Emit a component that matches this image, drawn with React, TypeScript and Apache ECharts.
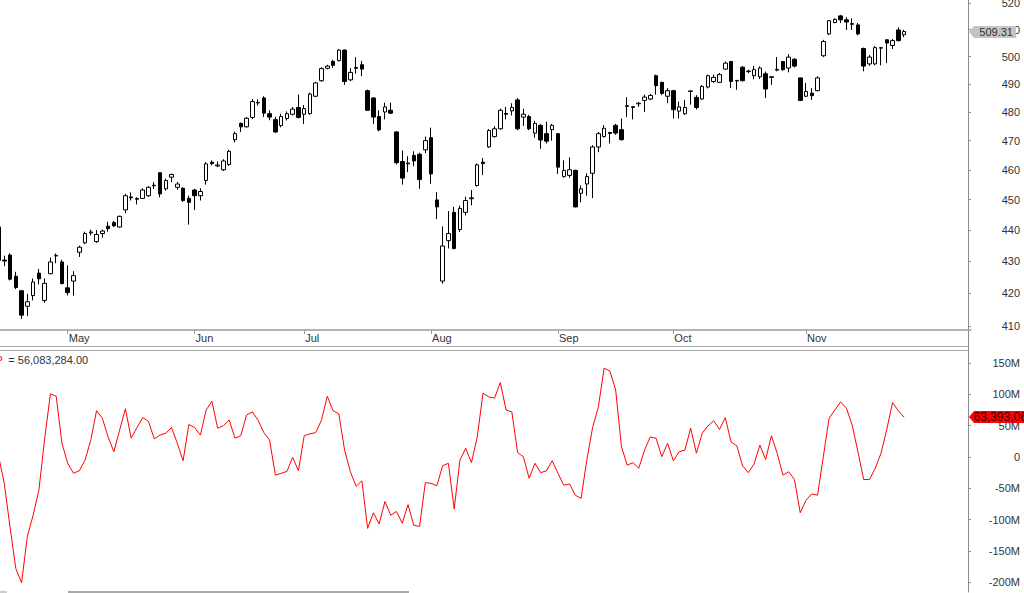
import React, { useEffect, useRef } from 'react';
import * as echarts from 'echarts';

// ---- trading days (2024) ----
const monthNames = ['Apr', 'May', 'Jun', 'Jul', 'Aug', 'Sep', 'Oct', 'Nov'];
const aprDays = [15, 16, 17, 18, 19, 22, 23, 24, 25, 26, 29, 30];
const mayDays = [1, 2, 3, 6, 7, 8, 9, 10, 13, 14, 15, 16, 17, 20, 21, 22, 23, 24, 28, 29, 30, 31];
const junDays = [3, 4, 5, 6, 7, 10, 11, 12, 13, 14, 17, 18, 20, 21, 24, 25, 26, 27, 28];
const julDays = [1, 2, 3, 5, 8, 9, 10, 11, 12, 15, 16, 17, 18, 19, 22, 23, 24, 25, 26, 29, 30, 31];
const augDays = [1, 2, 5, 6, 7, 8, 9, 12, 13, 14, 15, 16, 19, 20, 21, 22, 23, 26, 27, 28, 29, 30];
const sepDays = [3, 4, 5, 6, 9, 10, 11, 12, 13, 16, 17, 18, 19, 20, 23, 24, 25, 26, 27, 30];
const octDays = [1, 2, 3, 4, 7, 8, 9, 10, 11, 14, 15, 16, 17, 18, 21, 22, 23, 24, 25, 28, 29, 30, 31];
const novDays = [1, 4, 5, 6, 7, 8, 11, 12, 13, 14, 15, 18, 19, 20, 21, 22, 25, 26];

// ---- OHLC: [open, close, low, high] ----
const aprOHLC = [
  [441, 430.3, 429.6, 442], [430.4, 430.1, 428.5, 431.8], [432, 424.4, 424, 432.5], [425.3, 421.8, 421.3, 426.7],
  [420.8, 413.3, 412.1, 421], [416, 417.4, 413, 419.8], [419.3, 423.5, 417.8, 424.6], [426.3, 424.5, 422.8, 427.6],
  [417.8, 423.1, 417.1, 424.6], [426.1, 429.8, 425.9, 431.2], [431.7, 431.9, 429.4, 432.5], [429.8, 423, 422.8, 430.5],
];
const mayOHLC = [
  [421.7, 420.2, 419.3, 428.7], [423.8, 425.5, 419.3, 426.9], [432.9, 434.5, 431.4, 435], [435.9, 438.9, 435.5, 439.5],
  [439.1, 439.4, 438.3, 440.2], [436.3, 438.6, 435.9, 440], [438.9, 439.7, 437.6, 440.2], [441.3, 440.5, 439.5, 442.7],
  [442.5, 441.4, 441, 443], [441, 444.5, 440.8, 444.7], [446.6, 451.3, 445.5, 451.9], [450.9, 450.6, 449.7, 452.4],
  [450.1, 450.4, 448.4, 450.8], [450.4, 453.2, 450.2, 453.8], [451.3, 454.1, 450.9, 454.5], [454.6, 454.8, 453.5, 455.8],
  [459, 451.9, 450.8, 459.2], [453.6, 456.4, 453, 457], [457.5, 458.4, 455.8, 458.7], [454.1, 455.2, 453.3, 455.9],
  [453.8, 449.7, 449.2, 454.1], [450.4, 449.1, 441.8, 451.3],
];
const junOHLC = [
  [453.2, 451.3, 446.6, 453.6], [451.3, 452.7, 449.7, 453.8], [456.4, 462, 455, 462.6], [462.6, 462.1, 461.5, 463.2],
  [461.3, 461.6, 460.9, 462.8], [460, 463, 459.6, 463.6], [461.8, 466.3, 461.3, 466.8], [470.3, 472.4, 469.4, 473.1],
  [476, 474.8, 473, 476.3], [474.8, 477.8, 474.5, 478.2], [478.1, 483.7, 477.5, 484.6], [483.2, 483.4, 482.3, 484.5],
  [485, 479.6, 478.2, 485.6], [479.4, 478.2, 477.1, 480.6], [477.3, 473, 472.7, 478.3], [475.2, 478.4, 474.6, 479.4],
  [477.7, 479.4, 477, 480.2], [479.2, 481, 478.8, 481.8], [481.6, 478.1, 477.7, 486.2],
];
const julOHLC = [
  [479.2, 481.2, 475.8, 482.5], [479.4, 486.4, 479, 486.9], [485.6, 490.4, 485.3, 490.8], [491.2, 495.6, 490.8, 496.1],
  [495.7, 496.5, 495.3, 497], [498.2, 496.8, 495.9, 498.8], [498.5, 502.4, 498.2, 502.8], [502.4, 490.9, 489.7, 502.7],
  [491.5, 494.2, 491, 495.8], [496, 495.7, 493.7, 499.8], [497, 495.4, 492.8, 498.4], [487.6, 480.6, 480.5, 488],
  [485, 478.2, 475.8, 485.2], [478.4, 473.7, 473.2, 480.6], [480, 481.8, 477.4, 483.3], [480.6, 479.6, 479.3, 483.3],
  [473, 462.4, 461.8, 473.2], [462.8, 457.2, 455, 466.6], [462, 462.3, 459.2, 464.6], [464.9, 463, 461.2, 466.3],
  [465.3, 456.7, 453.6, 465.8], [466.8, 470, 465.7, 471.4],
];
const augOHLC = [
  [471, 458.6, 455.3, 474.5], [449.9, 447.6, 443.6, 452.5], [423.8, 434.9, 423, 441.2], [436.6, 438.9, 434.1, 446.2],
  [445.8, 434.1, 433.8, 447.6], [440.2, 447.1, 439.4, 448], [445.8, 449.7, 444.8, 451], [450.3, 450.6, 448.1, 453.2],
  [454.7, 461.7, 454.3, 462.2], [462.6, 462.1, 458.2, 464], [467.8, 473.5, 467.5, 474], [471.4, 474.1, 471, 475],
  [474.1, 480.6, 473.8, 481.2], [479.5, 479.2, 477.4, 481.8], [480.4, 481.6, 478.8, 483.1], [484.3, 474.1, 473.6, 485],
  [478.2, 479.2, 475.1, 481.2], [478.4, 474.1, 473.6, 479], [472.6, 476, 471, 476.9], [475.3, 470.2, 467.2, 475.8],
  [472.4, 469.8, 469, 476.6], [473.8, 475.3, 470, 475.8],
];
const sepOHLC = [
  [472.4, 460.9, 458.6, 472.6], [457.7, 459.8, 457.3, 463.2], [458.1, 460, 457.3, 464.2], [459.8, 447.6, 447.4, 460],
  [452.1, 453.6, 449.1, 454.7], [455.2, 457.7, 451.3, 458.8], [458.8, 467.8, 450.5, 468.4], [467.8, 472.4, 466, 473],
  [471.4, 474.3, 471, 475.4], [472.8, 472.5, 469, 473], [475.3, 472.6, 472, 475.8], [473.8, 470.3, 470, 477.7],
  [482.2, 482, 478.2, 485.3], [481.6, 481.9, 477.4, 482], [482.9, 483.1, 481.8, 483.6], [484.1, 485.3, 480, 486.2],
  [484.6, 485.9, 484.2, 486.4], [493, 489.4, 486.2, 493.4], [490.6, 486.6, 486, 490.8], [485.6, 487.6, 483.1, 488.5],
];
const octOHLC = [
  [487.6, 480.8, 477.7, 487.9], [480.3, 481.8, 477.7, 483.7], [479.4, 481.6, 479, 484.3], [487.5, 487.3, 482.6, 487.7],
  [485.2, 481.6, 480.9, 486], [484.6, 489.1, 484.3, 489.6], [488.9, 493, 488.4, 493.4], [490.9, 492.4, 490.4, 493.4],
  [490.6, 493.4, 490.4, 494], [495.4, 497.6, 495.1, 498.2], [498.2, 490.9, 488.5, 498.3], [491.3, 491.1, 487.9, 491.4],
  [496.1, 491.2, 490.9, 496.5], [494.5, 494.7, 493.9, 495.2], [493, 495.2, 491.7, 496.5], [492.6, 495.8, 491.8, 496.4],
  [493.7, 488.2, 485, 494.5], [492.6, 492.4, 489.7, 492.7], [495, 495.3, 494.6, 499.8], [498.2, 495.2, 494.8, 498.3],
  [495.8, 499.8, 494.2, 500.9], [499, 496.5, 496, 499.4], [492.2, 484.1, 483.9, 492.3],
];
const novOHLC = [
  [485.6, 487.3, 485.3, 490.4], [486.7, 485.8, 484.3, 488.5], [487.6, 492.2, 487.4, 492.8], [500.3, 505.6, 499.8, 506.2],
  [508.4, 513.4, 508, 513.6], [512.7, 513.9, 512.4, 514.3], [515.2, 513.7, 512.5, 515.6], [513.7, 512.9, 509.9, 514.7],
  [512, 512.3, 509.9, 514.3], [511.8, 508.4, 507.9, 512.5], [503, 496.5, 494.6, 503.3], [497.3, 499.8, 496.6, 500.6],
  [497.3, 503.3, 496.8, 503.9], [503.1, 503.3, 496.8, 503.5], [506.2, 505, 497.6, 506.5], [504.1, 505.9, 502.8, 506.5],
  [509.9, 505.9, 505.6, 510.9], [508.1, 509.31, 507.2, 509.9],
];

// ---- oscillator (millions) ----
const aprOsc = [2, -42, -112, -178, -201, -127, -93, -53, 29, 101, 97, 22];
const mayOsc = [-10, -26, -22, -5, 27, 74, 62, 32, 8.5, 43, 77, 30, 47, 63, 57, 29, 35, 38, 47, 22, -6, 52];
const junOsc = [47, 35, 75, 89, 46, 50, 59, 30, 34, 67, 72, 59, 39, 27, -29, -26, -23, -0.5, -22];
const julOsc = [34, 37, 39, 59, 97, 74, 69, 11, -23.5, -47, -38, -114, -89, -107, -71, -93, -87, -106, -76, -109, -111, -41];
const augOsc = [-42, -46, -14, -10, -83, -5, 14, -9, 32, 102, 96, 94, 119, 75, 72, 7, 0.5, -34, -10, -25, -22, -6];
const sepOsc = [-26, -45, -43, -61, -66, -5, 47, 80, 142, 137, 107, 16.5, -13, -9, -18, 11, 32, 30, 0.5, 22];
const octOsc = [-6, 8.5, 11, 46, 6, 38, 49.5, 58, 44, 63, 24, 18, -14, -25, -11, 19, -4, 34, 6, -29, -23.5, -36, -89];
const novOsc = [-69, -59, -61, 0.5, 62, 75, 88, 78, 51, 8.5, -36, -36, -18, 6, 44, 87, 74, 63.393];

const priceTicks = [410, 420, 430, 440, 450, 460, 470, 480, 490, 500, 510, 520];
const oscTicks = [-200, -150, -100, -50, 0, 50, 100, 150];
const priceMin = 408.8;
const priceMax = 521.27;
const oscMin = -215.6;
const oscMax = 170.9;
const lastPrice = 509.31;
const lastPriceText = '509.31';
const lastOsc = 63.393;
const lastOscText = '63,393,064.00';
const headerText = '= 56,083,284.00';
const padCount = 11;

const FONT = '"Liberation Sans", Arial, Helvetica, sans-serif';

export default function App() {
  const ref = useRef<HTMLDivElement>(null);

  useEffect(() => {
    if (!ref.current) return;
    const chart = echarts.init(ref.current, null, { renderer: 'svg' });

    const monthDays = [aprDays, mayDays, junDays, julDays, augDays, sepDays, octDays, novDays];
    const cats: string[] = [];
    const monthIdx: number[] = [];
    monthDays.forEach((days, m) => {
      days.forEach((d) => {
        cats.push(`${monthNames[m]} ${d}`);
        monthIdx.push(m);
      });
    });
    const nReal = cats.length;
    for (let i = 0; i < padCount; i++) cats.push('');
    const isMonthStart = (i: number) => i > 0 && i < nReal && monthIdx[i] !== monthIdx[i - 1];

    const ohlc = [...aprOHLC, ...mayOHLC, ...junOHLC, ...julOHLC, ...augOHLC, ...sepOHLC, ...octOHLC, ...novOHLC];
    const osc = [...aprOsc, ...mayOsc, ...junOsc, ...julOsc, ...augOsc, ...sepOsc, ...octOsc, ...novOsc];
    const candleData = ohlc.map(([o, c, l, h]) => [Math.log(o), Math.log(c), Math.log(l), Math.log(h)]);

    const step = 5.768;
    const gridLeft = -1.5 - step / 2;
    const gridWidth = step * cats.length;
    const axisX = 968;
    const offset = axisX - (gridLeft + gridWidth);

    const axisGray = '#8c8c8c';

    chart.setOption({
      animation: false,
      backgroundColor: '#ffffff',
      textStyle: { fontFamily: FONT },
      grid: [
        { left: gridLeft, top: 0, width: gridWidth, height: 330, outerBoundsMode: 'none' },
        { left: gridLeft, top: 350, width: gridWidth, height: 242, outerBoundsMode: 'none' },
      ],
      xAxis: [
        {
          type: 'category',
          gridIndex: 0,
          data: cats,
          boundaryGap: true,
          axisLine: { show: true, lineStyle: { color: '#b4b4b4', width: 2 } },
          axisTick: {
            show: true,
            alignWithLabel: true,
            interval: (i: number) => isMonthStart(i),
            length: 4,
            lineStyle: { color: '#999999' },
          },
          axisLabel: {
            interval: (i: number) => isMonthStart(i),
            formatter: (v: string) => v.split(' ')[0],
            align: 'left',
            margin: 2,
            padding: [0, 0, 0, 1],
            fontSize: 11,
            color: '#333333',
            fontFamily: FONT,
          },
          splitLine: { show: false },
        },
        {
          type: 'category',
          gridIndex: 1,
          data: cats,
          boundaryGap: true,
          show: false,
        },
      ],
      yAxis: [
        {
          type: 'value',
          gridIndex: 0,
          position: 'right',
          offset,
          min: Math.log(priceMin),
          max: Math.log(priceMax),
          splitLine: { show: false },
          axisLine: { show: true, lineStyle: { color: axisGray } },
          axisTick: { show: true, customValues: priceTicks.map((t) => Math.log(t)), length: 3, lineStyle: { color: axisGray } },
          axisLabel: {
            customValues: priceTicks.map((t) => Math.log(t)),
            formatter: (v: number) => String(Math.round(Math.exp(v))),
            align: 'right',
            margin: 52,
            fontSize: 11,
            color: '#333333',
            fontFamily: FONT,
          },
        },
        {
          type: 'value',
          gridIndex: 1,
          position: 'right',
          offset,
          min: oscMin,
          max: oscMax,
          splitLine: { show: false },
          axisLine: { show: true, lineStyle: { color: axisGray } },
          axisTick: { show: true, customValues: oscTicks, length: 3, lineStyle: { color: axisGray } },
          axisLabel: {
            customValues: oscTicks,
            formatter: (v: number) => (v === 0 ? '0' : `${v}M`),
            align: 'right',
            margin: 52,
            fontSize: 11,
            color: '#333333',
            fontFamily: FONT,
          },
        },
      ],
      series: [
        {
          type: 'candlestick',
          xAxisIndex: 0,
          yAxisIndex: 0,
          data: candleData,
          barWidth: 4,
          itemStyle: {
            color: '#ffffff',
            color0: '#000000',
            borderColor: '#000000',
            borderColor0: '#000000',
            borderColorDoji: '#000000',
            borderWidth: 1,
          },
        },
        {
          type: 'line',
          xAxisIndex: 1,
          yAxisIndex: 1,
          data: osc,
          symbol: 'none',
          lineStyle: { color: '#ff0000', width: 1 },
        },
      ],
    });

    const lastIdx = nReal - 1;
    const pPrice = chart.convertToPixel({ gridIndex: 0 }, [lastIdx, Math.log(lastPrice)]) as number[];
    const pOsc = chart.convertToPixel({ gridIndex: 1 }, [lastIdx, lastOsc]) as number[];
    const yp = Math.round(pPrice[1]);
    const yo = Math.round(pOsc[1]);

    chart.setOption({
      graphic: [
        // bridge of the vertical axis line between panels
        { type: 'line', z: 50, shape: { x1: axisX + 0.5, y1: 330, x2: axisX + 0.5, y2: 350 }, style: { stroke: axisGray, lineWidth: 1 } },
        // separator lines
        { type: 'line', z: 50, shape: { x1: 0, y1: 346.5, x2: axisX, y2: 346.5 }, style: { stroke: '#a8a8a8', lineWidth: 1 } },
        { type: 'line', z: 50, shape: { x1: 0, y1: 350.5, x2: axisX, y2: 350.5 }, style: { stroke: '#a8a8a8', lineWidth: 1 } },
        // bottom bar
        { type: 'line', z: 50, shape: { x1: 0, y1: 592, x2: 7, y2: 592 }, style: { stroke: '#cccccc', lineWidth: 2 } },
        { type: 'line', z: 50, shape: { x1: 68, y1: 592, x2: 409, y2: 592 }, style: { stroke: '#a8a8a8', lineWidth: 2 } },
        // header label of the lower panel
        { type: 'text', z: 60, x: -4.6, y: 359.5, style: { text: 'P', fill: '#ff0000', fontSize: 11, fontFamily: FONT, verticalAlign: 'middle' } },
        { type: 'text', z: 60, x: 8.3, y: 359.5, style: { text: headerText, fill: '#333333', fontSize: 11, fontFamily: FONT, verticalAlign: 'middle' } },
        // last price tag
        {
          type: 'polygon', z: 60,
          shape: { points: [[axisX + 1, yp], [axisX + 6, yp - 6], [1016, yp - 6], [1016, yp + 6], [axisX + 6, yp + 6]] },
          style: { fill: '#c4c4c4' },
        },
        { type: 'text', z: 61, x: 1013, y: yp, style: { text: lastPriceText, fill: '#333333', fontSize: 11, fontFamily: FONT, align: 'right', verticalAlign: 'middle' } },
        // last oscillator tag
        {
          type: 'polygon', z: 60,
          shape: { points: [[axisX + 1, yo], [axisX + 6, yo - 6], [1030, yo - 6], [1030, yo + 6], [axisX + 6, yo + 6]] },
          style: { fill: '#ff0000' },
        },
        { type: 'text', z: 61, x: 973.5, y: yo, style: { text: lastOscText, fill: '#3a0000', fontSize: 12, fontFamily: FONT, align: 'left', verticalAlign: 'middle' } },
      ],
    });

    return () => chart.dispose();
  }, []);

  return <div ref={ref} style={{ position: 'fixed', left: 0, top: 0, width: 1024, height: 593 }} />;
}
